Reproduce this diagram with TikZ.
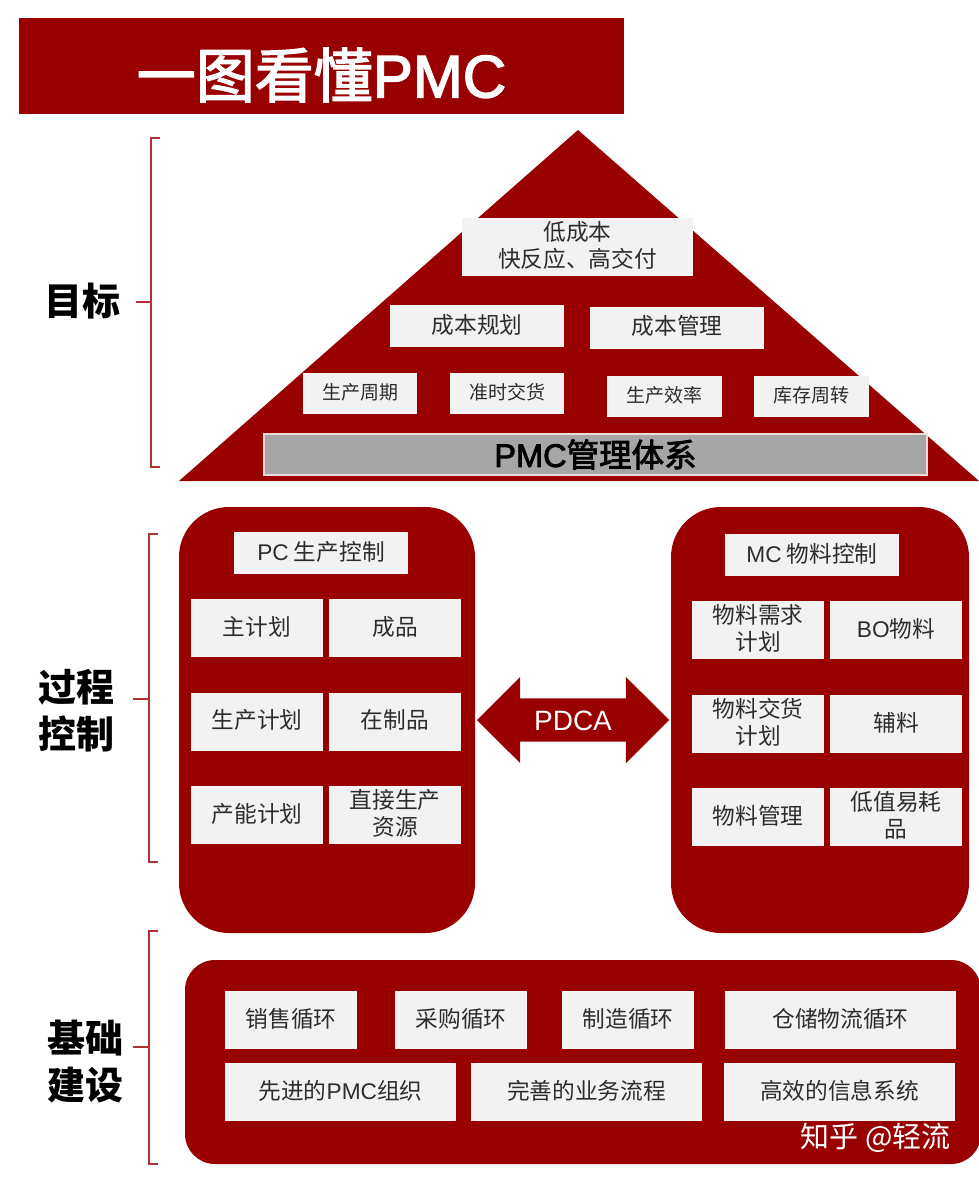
\documentclass[tikz,border=0pt]{standalone}
\usepackage{fontspec}
\usepackage{tikz}
\usetikzlibrary{shapes.arrows}
\setmainfont{Noto Sans CJK SC}
\newfontfamily\latfont{Liberation Sans}
\newfontfamily\heavyfont[FakeBold=2.5]{Noto Sans CJK SC}
\newfontfamily\latheavy[FakeBold=2.5]{Liberation Sans}
\definecolor{pmcred}{RGB}{153,0,0}
\definecolor{cellgray}{RGB}{242,242,242}
\definecolor{bargray}{RGB}{166,166,166}
\definecolor{bracered}{RGB}{176,50,50}
\definecolor{celltext}{RGB}{45,45,45}

\begin{document}
\begin{tikzpicture}[x=1pt,y=-1pt,node distance=138pt]
                \tikzstyle{panel} = [rectangle, rounded corners=50pt, inner sep=0pt, outer sep=0pt, fill=pmcred]
                \tikzstyle{cell} = [rectangle, minimum width=132pt, minimum height=58pt, inner sep=0pt, outer sep=0pt, align=center, fill=cellgray, text=celltext, font=\fontsize{22.7}{27}\selectfont, execute at end node={\rule[-0.2em]{0pt}{0.9em}}]
                \tikzstyle{widecell} = [cell, minimum width=231pt]
                \tikzstyle{head} = [cell, minimum width=174pt, minimum height=42pt]
                \tikzstyle{small} = [cell, minimum width=115pt, minimum height=41pt, font=\fontsize{19}{24}\selectfont]
                \tikzstyle{side} = [inner sep=0pt, align=center, text=black, font=\fontsize{38}{47}\selectfont\bfseries]
                \tikzstyle{brace} = [draw=bracered, line width=1.1pt]

                \useasboundingbox (0,0) rectangle (978,1180);
                \fill [white] (0,0) rectangle (978,1180);

                % title
                \node (title) [rectangle, minimum width=605pt, minimum height=96pt, inner sep=0pt, fill=pmcred] at (321.5,66) {};
                \node (titletext) [text=white, inner sep=0pt, font=\fontsize{59}{59}\selectfont\heavyfont] at (321.5,75) {一图看懂{\latheavy\fontsize{60}{60}\selectfont PMC}};

                % left labels and braces
                \node (goal) [side] at (82,301) {目标};
                \node (process) [side] at (76,711) {过程\\控制};
                \node (base) [side] at (85,1062) {基础\\建设};
                \draw [brace] (160,138) -- (151,138) -- (151,467) -- (160,467);
                \draw [brace] (136,302) -- (151,302);
                \draw [brace] (158,534) -- (149,534) -- (149,862) -- (158,862);
                \draw [brace] (133,699) -- (149,699);
                \draw [brace] (158,931) -- (149,931) -- (149,1164) -- (158,1164);
                \draw [brace] (133,1047) -- (149,1047);

                % pyramid
                \fill [pmcred] (578,130) -- (979,481) -- (179,481) -- cycle;
                \node (lowcost) [cell, minimum width=231pt] at (577.5,247) {低成本\\快反应、高交付};
                \node (plan) [head] at (477,326) {成本规划};
                \node (manage) [head] at (677,327.5) {成本管理};
                \node (cycle) [small, minimum width=114pt] at (360,393.5) {生产周期};
                \node (ontime) [small, minimum width=114pt] at (507,393.5) {准时交货};
                \node (effic) [small] at (664.5,396.5) {生产效率};
                \node (stock) [small] at (811.5,396.5) {库存周转};
                \node (system) [rectangle, minimum width=663pt, minimum height=41pt, inner sep=0pt, fill=bargray, draw=white!85!pmcred, line width=1.2pt, text=black, font=\fontsize{32.5}{32.5}\selectfont] at (595.5,454.5) {{\latheavy PMC}{\heavyfont 管理体系}};

                % PC panel
                \node (pcpanel) [panel, minimum width=296pt, minimum height=426pt] at (327,720) {};
                \node (pchead) [head] at (321,553) {{\latfont PC} 生产控制};
                \node (master) [cell] at (257,628) {主计划};
                \node (finished) [cell, right of=master] {成品};
                \node (prodplan) [cell, below of=master, node distance=93.5pt] {生产计划};
                \node (wip) [cell, right of=prodplan] {在制品};
                \node (capacity) [cell, below of=prodplan, node distance=93.5pt] {产能计划};
                \node (direct) [cell, right of=capacity] {直接生产\\资源};

                % MC panel
                \node (mcpanel) [panel, minimum width=298pt, minimum height=426pt] at (820,720) {};
                \node (mchead) [head] at (812,555) {{\latfont MC} 物料控制};
                \node (mrp) [cell] at (758,630) {物料需求\\计划};
                \node (bo) [cell, right of=mrp] {{\latfont BO}物料};
                \node (deliver) [cell, below of=mrp, node distance=94pt] {物料交货\\计划};
                \node (aux) [cell, right of=deliver] {辅料};
                \node (matman) [cell, below of=deliver, node distance=93pt] {物料管理};
                \node (consum) [cell, right of=matman] {低值易耗\\品};

                % PDCA arrow between panels
                \node (pdca) [double arrow, fill=pmcred, text=white, inner xsep=0pt, inner ysep=11.5pt, text height=20pt, text depth=0pt, minimum height=192pt, minimum width=86pt, double arrow head extend=21.5pt, double arrow tip angle=90, font=\fontsize{28}{28}\selectfont\latfont] at (573,720) {PDCA};

                % base panel
                \node (basepanel) [panel, rounded corners=30pt, minimum width=796pt, minimum height=204pt] at (583,1062) {};
                \node (sales) [cell] at (291,1020) {销售循环};
                \node (purchase) [cell] at (461,1020) {采购循环};
                \node (make) [cell] at (628,1020) {制造循环};
                \node (store) [widecell] at (840.5,1020) {仓储物流循环};
                \node (org) [widecell] at (340.5,1092) {先进的{\latfont PMC}组织};
                \node (flow) [widecell] at (586.5,1092) {完善的业务流程};
                \node (info) [widecell] at (839.5,1092) {高效的信息系统};
                \node (mark) [inner sep=0pt, text=white, font=\fontsize{29}{29}\selectfont] at (875.5,1138) {知乎 @轻流};
            \end{tikzpicture}
\end{document}
